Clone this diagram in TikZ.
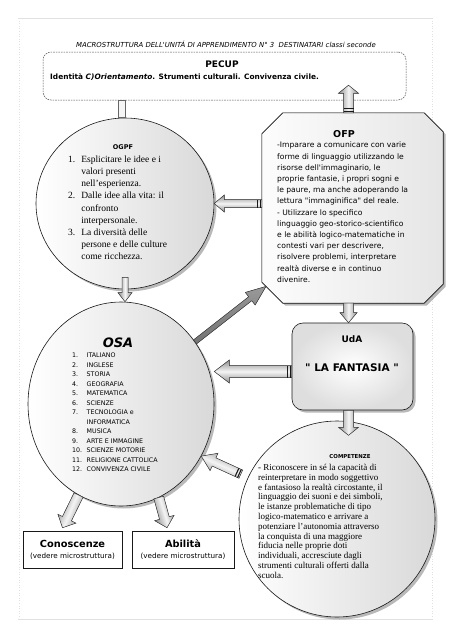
\documentclass[tikz,border=0pt]{standalone}
\usepackage{fontspec}
\setmainfont{Liberation Serif}
\newfontfamily\comic{DejaVu Sans}
\usetikzlibrary{shapes.geometric, shadows, calc}

\definecolor{myink}{RGB}{25,25,25}
\definecolor{myframe}{RGB}{225,225,225}
\tikzset{
  bubble/.style={ellipse, draw=myink, line width=0.6pt, inner sep=0pt,
    left color=white, right color=black!15,
    drop shadow={shadow xshift=2.5pt, shadow yshift=-2.5pt, fill=black!55}},
  octofill/.style={draw=myink, line width=0.6pt,
    left color=black!1, right color=black!10,
    drop shadow={shadow xshift=2.5pt, shadow yshift=-2.5pt, fill=black!55}},
  udabox/.style={rectangle, rounded corners=11pt, draw=myink, line width=0.6pt,
    inner color=white, outer color=black!13,
    drop shadow={shadow xshift=2.5pt, shadow yshift=-2.5pt, fill=black!55}},
  plainbox/.style={rectangle, draw=myink, fill=white, line width=0.6pt,
    minimum height=37pt, align=center, inner sep=0pt,
    drop shadow={shadow xshift=1.2pt, shadow yshift=-1.2pt, fill=black!60}},
  pecupbox/.style={rectangle, rounded corners=8pt, draw=black!70,
    dash pattern=on 1.6pt off 1pt, line width=0.5pt, fill=white},
  stem/.style={draw=black!60, fill=black!4, line width=0.5pt},
  blockarrow/.style={draw=black!75, line width=0.5pt,
    top color=black!45, bottom color=black!45, middle color=black!4},
  pageline/.style={myframe, line width=0.6pt},
  comictext/.style={font=\comic\fontsize{7.6}{11.2}\selectfont, align=left, inner sep=0pt},
  serftext/.style={align=left, inner sep=0pt}
}

% block arrow: [style] {tail} {tip} {half shaft} {half head} {head length}
\newcommand{\blockarrow}[6][]{%
  \coordinate (ba-base) at ($(#3)!#6!(#2)$);
  \filldraw[blockarrow, #1]
    ($(#2)!#4!90:(#3)$) -- ($(ba-base)!#4!90:(#3)$) -- ($(ba-base)!#5!90:(#3)$)
    -- (#3) -- ($(ba-base)!#5!-90:(#3)$) -- ($(ba-base)!#4!-90:(#3)$)
    -- ($(#2)!#4!-90:(#3)$) -- cycle;
}
% dark bands at the tail of an arrow: {tail} {tip} {half shaft}
\newcommand{\tailbands}[3]{%
  \foreach \d in {1.5pt,4.2pt}{
    \coordinate (ba-band) at ($(#1)!\d!(#2)$);
    \draw[line width=1.1pt, myink] ($(ba-band)!#3!90:(#2)$) -- ($(ba-band)!#3!-90:(#2)$);
  }
}

\begin{document}
\begin{tikzpicture}[x=1pt, y=-1pt]
  \useasboundingbox (0,0) rectangle (452,640);

  % page frame
  \draw[pageline] (18,18) -- (433,18);
  \draw[pageline] (18,619) -- (433,619);
  \draw[pageline, dotted] (19,18) -- (19,619);
  \draw[pageline, dotted] (432,18) -- (432,619);

  % Title
  \node[font=\comic\itshape\fontsize{6.9}{8}\selectfont] (title) at (226,44)
    {MACROSTRUTTURA DELL'UNITÁ DI APPRENDIMENTO N° 3\ \ DESTINATARI classi seconde};

  % PECUP
  \node[pecupbox, minimum width=363pt, minimum height=48pt] (pecup) at (224.5,76) {};
  \node[font=\comic\bfseries\fontsize{9}{10}\selectfont] (pecup-title) at (222,64) {PECUP};
  \node[anchor=west, inner sep=0pt, font=\comic\bfseries\fontsize{7.4}{9}\selectfont] (pecup-text) at (50,77)
    {Identità \textit{C)Orientamento}. Strumenti culturali. Convivenza civile.};

  % Main shapes
  \node[bubble, minimum width=178pt, minimum height=171pt] (ogpf) at (125,203.5) {};
  \node[rectangle, minimum width=181pt, minimum height=190pt, inner sep=0pt] (ofp) at (352.5,208) {};
  \filldraw[octofill] ([xshift=21pt]ofp.north west) -- ([xshift=-19pt]ofp.north east)
    -- ([yshift=-19pt]ofp.north east) -- ([yshift=19pt]ofp.south east)
    -- ([xshift=-19pt]ofp.south east) -- ([xshift=21pt]ofp.south west)
    -- ([yshift=21pt]ofp.south west) -- ([yshift=-21pt]ofp.north west) -- cycle;
  \node[bubble, minimum width=186pt, minimum height=204pt] (osa) at (121,404) {};
  \node[udabox, minimum width=121pt, minimum height=87pt] (uda) at (352.5,366.5) {};
  \node[bubble, minimum width=196pt, minimum height=196pt] (comp) at (337,519) {};
  \node[plainbox, minimum width=99pt] (cono) at (72.5,549.5)
    {{\comic\bfseries\fontsize{9.8}{11}\selectfont Conoscenze}\\[-1pt]
     {\comic\fontsize{7.2}{8}\selectfont (vedere microstruttura)}};
  \node[plainbox, minimum width=102pt] (abil) at (183,549.5)
    {{\comic\bfseries\fontsize{9.8}{11}\selectfont Abilità}\\[-1pt]
     {\comic\fontsize{7.2}{8}\selectfont (vedere microstruttura)}};

  % OGPF text
  \node[font=\comic\bfseries\fontsize{6.5}{8}\selectfont] (ogpf-title) at (123,147) {OGPF};
  \node[serftext, anchor=north west, font=\fontsize{9.5}{12.1}\selectfont] (ogpf-list) at (68,154)
    {\begin{tabular}{@{}l@{\hspace{6pt}}l@{}}
      1. & Esplicitare le idee e i\\
         & valori presenti\\
         & nell'esperienza.\\
      2. & Dalle idee alla vita: il\\
         & confronto\\
         & interpersonale.\\
      3. & La diversità delle\\
         & persone e delle culture\\
         & come ricchezza.
     \end{tabular}};

  % OFP text
  \node[font=\comic\bfseries\fontsize{9.5}{11}\selectfont] (ofp-title) at (344,134) {OFP};
  \node[comictext, anchor=north west] (ofp-text) at (277,142)
    {-Imparare a comunicare con varie\\
     forme di linguaggio utilizzando le\\
     risorse dell'immaginario, le\\
     proprie fantasie, i propri sogni e\\
     le paure, ma anche adoperando la\\
     lettura "immaginifica" del reale.\\
     - Utilizzare lo specifico\\
     linguaggio geo-storico-scientifico\\
     e le abilità logico-matematiche in\\
     contesti vari per descrivere,\\
     risolvere problemi, interpretare\\
     realtà diverse e in continuo\\
     divenire.};

  % OSA text
  \node[font=\comic\bfseries\itshape\fontsize{13}{15}\selectfont] (osa-title) at (118,343) {OSA};
  \node[serftext, anchor=north west, font=\comic\fontsize{6.3}{9.5}\selectfont] (osa-list) at (72,351)
    {\begin{tabular}{@{}l@{\hspace{4.5pt}}l@{}}
      1. & ITALIANO\\
      2. & INGLESE\\
      3. & STORIA\\
      4. & GEOGRAFIA\\
      5. & MATEMATICA\\
      6. & SCIENZE\\
      7. & TECNOLOGIA e\\
         & INFORMATICA\\
      8. & MUSICA\\
      9. & ARTE E IMMAGINE\\
      10. & SCIENZE MOTORIE\\
      11. & RELIGIONE CATTOLICA\\
      12. & CONVIVENZA CIVILE
     \end{tabular}};

  % UdA text
  \node[font=\comic\bfseries\fontsize{9}{10}\selectfont] (uda-title) at (352,339) {UdA};
  \node[font=\comic\bfseries\fontsize{10.5}{12}\selectfont] (uda-text) at (352,368) {" LA FANTASIA "};

  % COMPETENZE text
  \node[font=\comic\bfseries\fontsize{5.4}{7}\selectfont] (comp-title) at (350,457) {COMPETENZE};
  \node[serftext, anchor=north west, font=\fontsize{9}{9.8}\selectfont] (comp-text) at (258,464)
    {- Riconoscere in sé la capacità di\\
     reinterpretare in modo soggettivo\\
     e fantasioso la realtà circostante, il\\
     linguaggio dei suoni e dei simboli,\\
     le istanze problematiche di tipo\\
     logico-matematico e arrivare a\\
     potenziare l'autonomia attraverso\\
     la conquista di una maggiore\\
     fiducia nelle proprie doti\\
     individuali, accresciute dagli\\
     strumenti culturali offerti dalla\\
     scuola.};

  % Connectors
  \draw[stem] ($(pecup.south -| ogpf.north)+(-7,0)$) rectangle (ogpf.north);

  \coordinate (up-tail) at ($(ofp.north)+(-4,0)$);
  \coordinate (up-tip) at ($(pecup.south -| up-tail)+(0,-15)$);
  \blockarrow[shading angle=90]{up-tail}{up-tip}{5pt}{10pt}{8pt}
  \tailbands{up-tail}{up-tip}{5pt}

  \coordinate (left-tail) at (ofp.west |- ogpf.east);
  \blockarrow{left-tail}{ogpf.east}{4pt}{8.5pt}{10pt}
  \tailbands{left-tail}{ogpf.east}{4pt}

  \coordinate (down-tail) at ($(ogpf.south)+(0,-12)$);
  \coordinate (down-tip) at (ogpf.south |- osa.north);
  \blockarrow[shading angle=90]{down-tail}{down-tip}{3pt}{7pt}{9pt}

  \coordinate (uda-in-tail) at ($(ofp.south)+(-4,0)$);
  \coordinate (uda-in-tip) at (uda-in-tail |- uda.north);
  \blockarrow[shading angle=90]{uda-in-tail}{uda-in-tip}{5pt}{8.5pt}{10pt}

  \coordinate (comp-in-tail) at (uda-in-tail |- uda.south);
  \coordinate (comp-in-tip) at ($(comp-in-tail)+(0,25)$);
  \blockarrow[shading angle=90]{comp-in-tail}{comp-in-tip}{5pt}{10pt}{8pt}

  \coordinate (uda-out-tail) at ($(uda.west)+(0,5)$);
  \coordinate (uda-out-tip) at (osa.east |- uda-out-tail);
  \blockarrow{uda-out-tail}{uda-out-tip}{6pt}{11.5pt}{15pt}
  \tailbands{uda-out-tail}{uda-out-tip}{6pt}

  \coordinate (ofp-in-tip) at ($([yshift=21pt]ofp.south west)!0.2!([xshift=21pt]ofp.south west)$);
  \blockarrow[shading angle=38, middle color=white, top color=black!40, bottom color=black!55]{osa.40}{ofp-in-tip}{2.5pt}{8pt}{20pt}

  \coordinate (comp-out-tail) at ($(comp.center)!1.08!(comp.155)$);
  \blockarrow[shading angle=156]{comp-out-tail}{osa.-33}{4.5pt}{9.5pt}{14pt}
  \tailbands{comp-out-tail}{osa.-33}{4.5pt}

  \coordinate (cono-tip) at ($(cono.north)+(-10,-3)$);
  \blockarrow[shading angle=67]{osa.245}{cono-tip}{5pt}{10pt}{10pt}

  \coordinate (abil-tip) at ($(abil.north)+(-16,-3)$);
  \blockarrow[shading angle=107]{osa.292}{abil-tip}{5pt}{10pt}{10pt}
\end{tikzpicture}
\end{document}
